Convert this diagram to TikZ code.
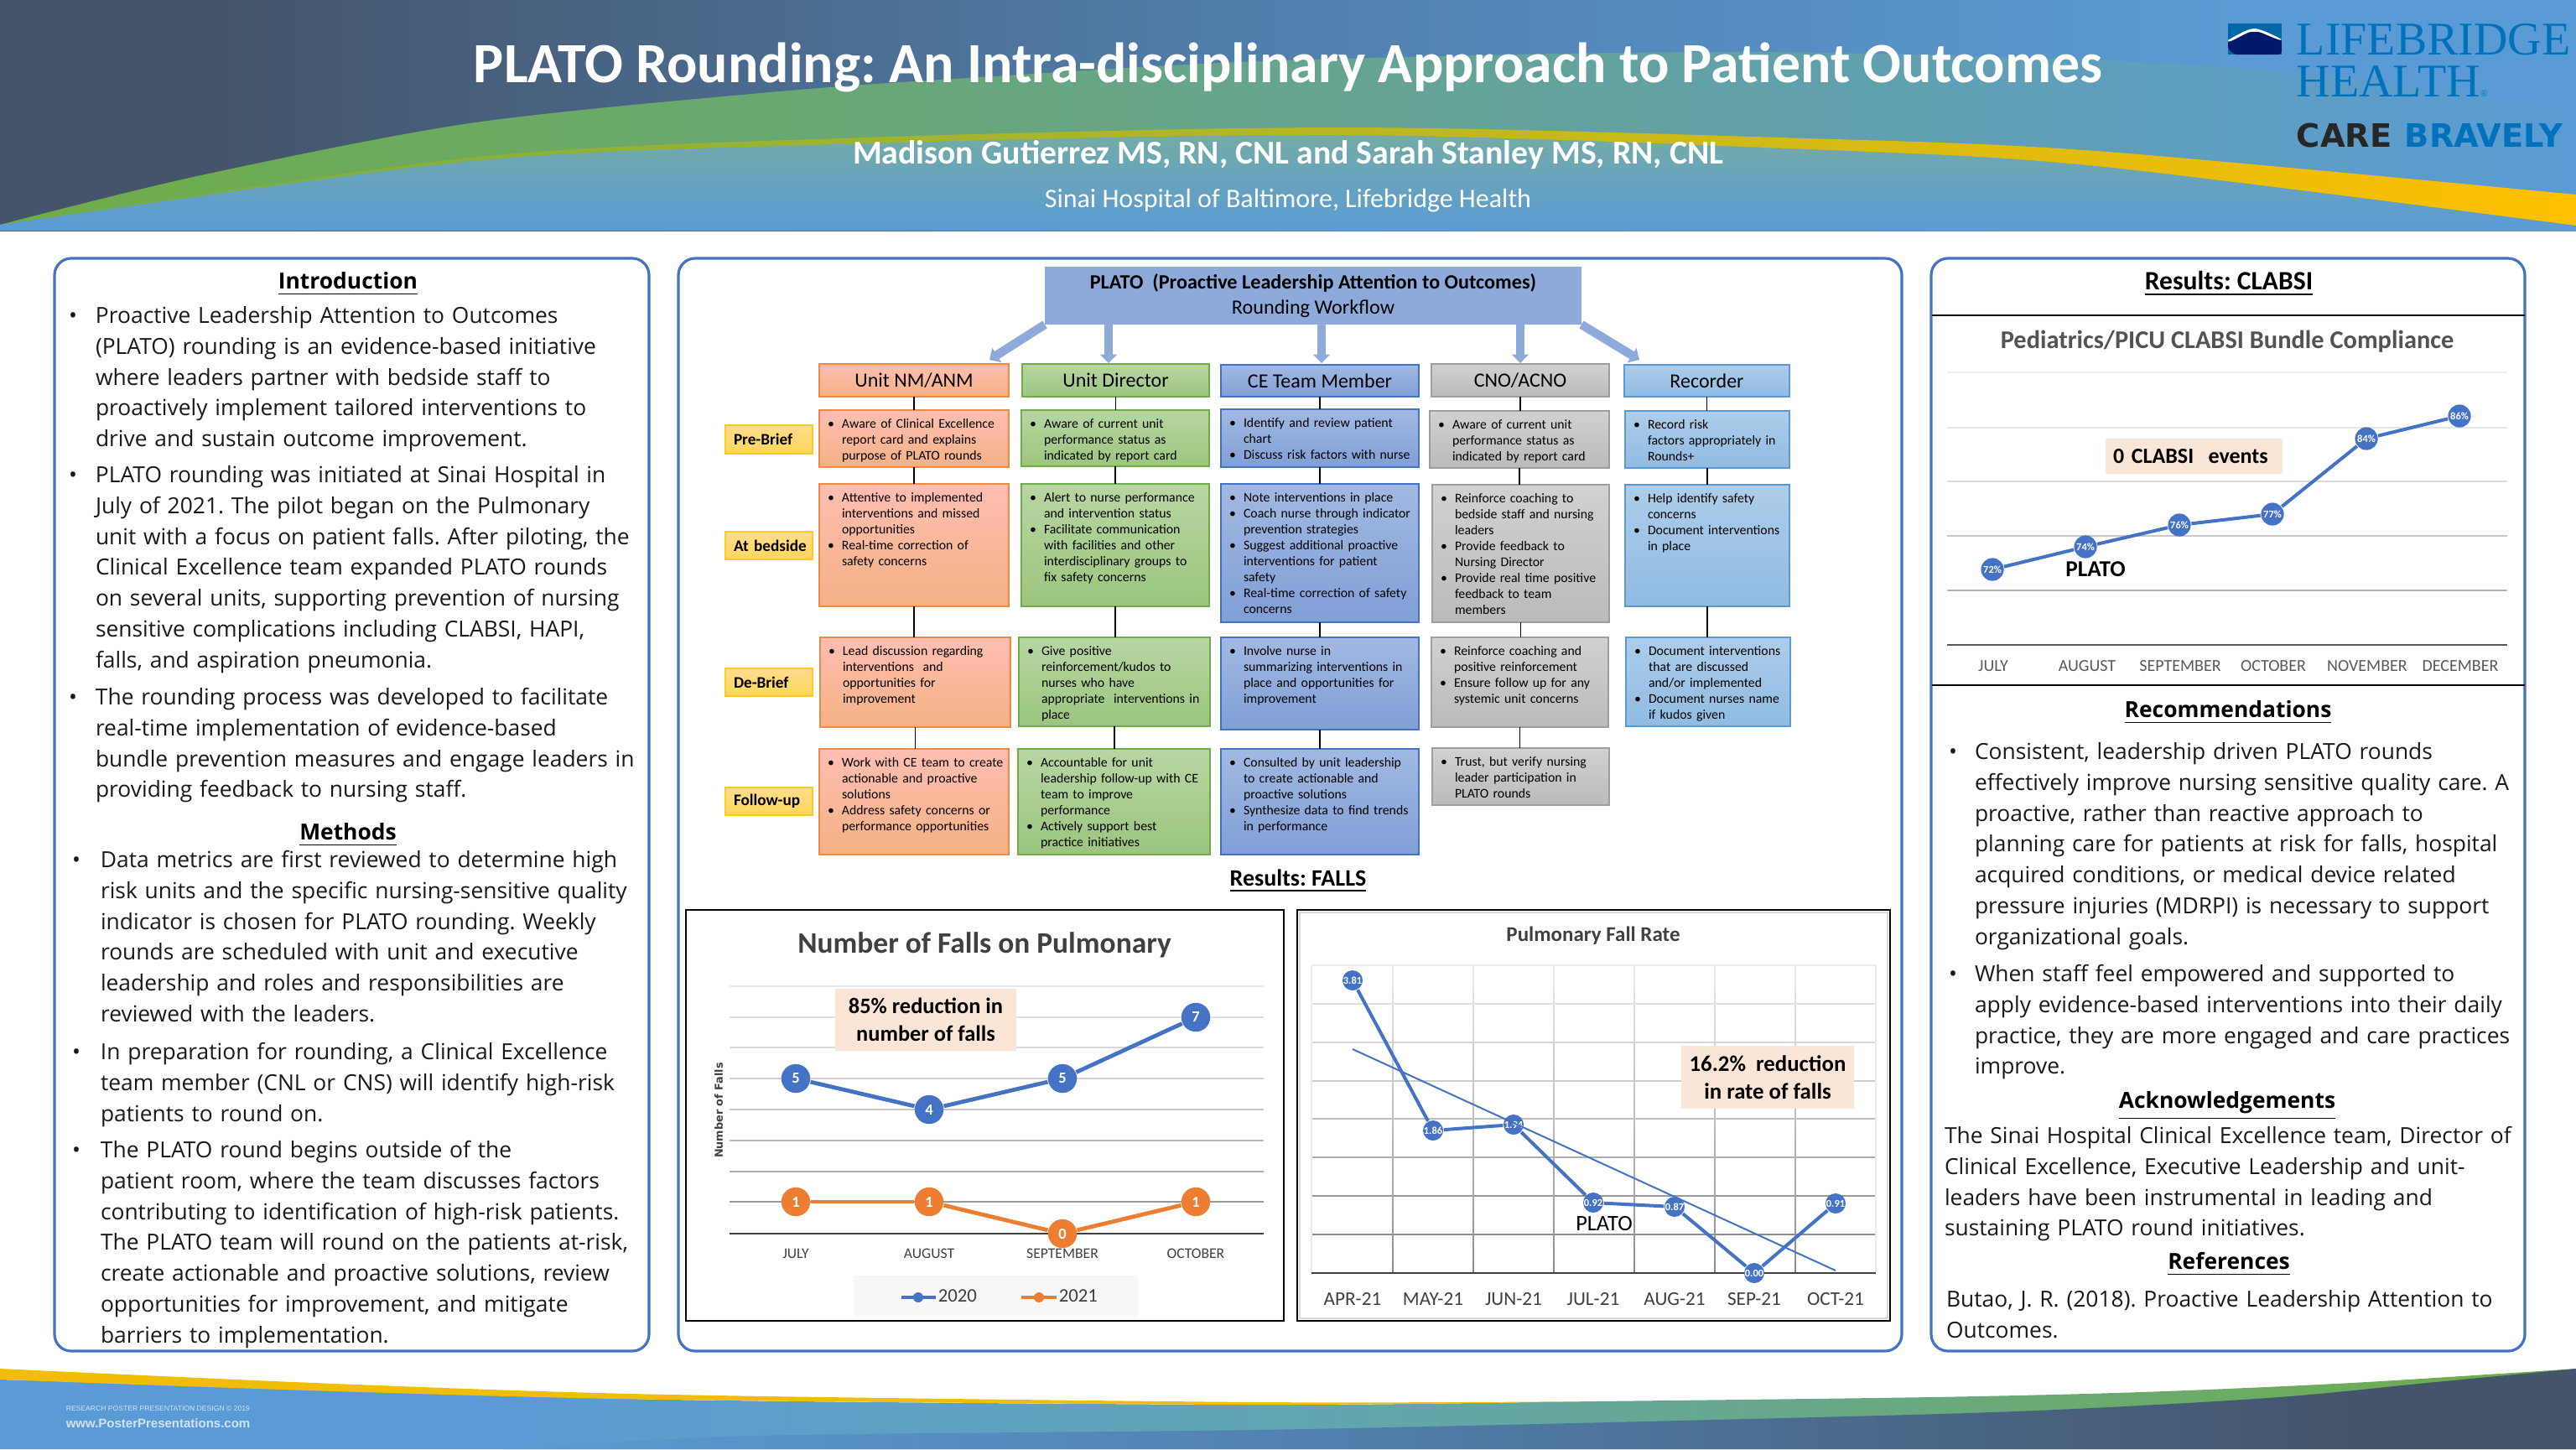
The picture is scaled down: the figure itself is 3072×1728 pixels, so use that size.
\documentclass[tikz,border=0pt]{standalone}
\usepackage{fontspec}
\setmainfont{Carlito}
\newfontfamily\bodyfont{Open Sans}
\newfontfamily\logofont{Liberation Serif}
\newfontfamily\heavyfont{DejaVu Sans}
\newfontfamily\arialfont{Liberation Sans}
\usetikzlibrary{arrows.meta,positioning,calc,shadings}
\frenchspacing

\definecolor{slate}{HTML}{44546A}
\definecolor{skyblue}{HTML}{5B9BD5}
\definecolor{midblue}{HTML}{5180AE}
\definecolor{tealmix}{HTML}{62A5B4}
\definecolor{leaf}{HTML}{70AD47}
\definecolor{gold}{HTML}{FFC000}
\definecolor{rim}{HTML}{4472C4}
\definecolor{platoblue}{HTML}{8EAADB}
\definecolor{serieso}{HTML}{ED7D31}
\definecolor{inkgrey}{HTML}{404040}
\definecolor{peach}{HTML}{FBE5D6}
\definecolor{brand}{HTML}{0072BC}

\pgfdeclarehorizontalshading{headbase}{100bp}{color(0bp)=(slate); color(29bp)=(slate); color(50bp)=(midblue); color(69bp)=(skyblue); color(100bp)=(skyblue)}
\pgfdeclarehorizontalshading{footbase}{100bp}{color(0bp)=(skyblue); color(35bp)=(skyblue); color(50bp)=(tealmix); color(75bp)=(leaf); color(100bp)=(leaf)}
\pgfdeclarehorizontalshading{footdark}{100bp}{color(0bp)=(skyblue); color(25bp)=(skyblue); color(45bp)=(midblue); color(70bp)=(slate); color(100bp)=(slate)}

\newcommand{\fs}[2]{\fontsize{#1}{#2}\selectfont}
\newcommand{\nb}[1]{\makebox[0pt]{#1}}
\newcommand{\bl}[2][4.25pt]{{\leftskip=#1\relax\rightskip=-30pt plus 1fil\relax\noindent\llap{\makebox[#1][l]{\textbullet}}#2\par}}

\tikzset{
  panel/.style={draw=rim,line width=0.8pt,rounded corners=5pt,fill=white},
  chartframe/.style={draw=black,line width=0.35pt,fill=white},
  cardsize/.style 2 args={anchor=north west,inner xsep=2.5pt,inner ysep=0pt,outer sep=0pt,
    align=left,font=\fs{3.95}{4.75},line width=0.3pt,
    minimum width=#1*0.25pt,text width=(#1-20)*0.25pt,
    text height=5.25pt,text depth=(#2-21)*0.25pt},
  headsize/.style 2 args={anchor=north west,inner sep=0pt,outer sep=0pt,font=\fs{6}{7},line width=0.3pt,
    minimum width=#1*0.25pt,minimum height=#2*0.25pt},
  rowsize/.style 2 args={anchor=north west,inner xsep=2.5pt,inner ysep=0pt,outer sep=0pt,align=left,
    font=\bfseries\fs{4.8}{5.5},line width=0.3pt,
    top color=yellow!40!orange!45!white,bottom color=gold!65!white,draw=gold!85!white,
    minimum height=#2*0.25pt,text width=(#1-20)*0.25pt},
  orangecard/.style={top color=orange!30!red!30!white,bottom color=serieso!60!white,draw=serieso!90!white},
  greencard/.style={top color=leaf!50!white,bottom color=leaf!70!white,draw=leaf},
  bluecard/.style={top color=rim!50!white,bottom color=rim!68!white,draw=rim},
  greycard/.style={top color=black!18,bottom color=black!27,draw=black!38},
  skycard/.style={top color=skyblue!50!white,bottom color=skyblue!68!white,draw=skyblue},
  stemline/.style={draw=black,line width=0.45pt},
  flowarrow/.style={-{Triangle[length=2.6pt,width=5pt]},line width=2.6pt,draw=platoblue},
  bodytext/.style={anchor=base west,inner sep=0pt,outer sep=0pt,align=left,text width=175pt,yshift=-0.6pt,
    font=\bodyfont\fs{6.6}{9.2},text=black!90},
  headtext/.style={anchor=base,inner sep=0pt,outer sep=0pt,yshift=-0.4pt,font=\bodyfont\bfseries\fs{6.6}{7}},
  dotblue/.style={circle,fill=rim,draw=none,inner sep=0pt,text=white,font=\bfseries\fs{4.6}{5}},
  dotorange/.style={circle,fill=serieso,draw=none,inner sep=0pt,text=white,font=\bfseries\fs{4.6}{5}},
  dotsmall/.style={dotblue,font=\bfseries\fs{3.1}{4}},
  seriesb/.style={draw=rim,line width=1.2pt},
  serieso/.style={draw=serieso,line width=1.2pt},
  seriesthin/.style={draw=rim,line width=1pt},
  callout/.style={fill=peach,inner sep=0pt,outer sep=0pt,align=center,font=\bfseries\fs{6.6}{8.2}},
  catlabel/.style={inner sep=0pt,outer sep=0pt,text=inkgrey,font=\fs{4.4}{5}},
  catwide/.style={catlabel,font=\fs{5.8}{6}},
  catplain/.style={catlabel,text=black!65,font=\fs{5}{5.5}},
  gridline/.style={line width=0.4pt}
}

\begin{document}
\begin{tikzpicture}[x=0.25pt,y=-0.25pt]
\useasboundingbox (0,0) rectangle (3072,1728);
% header
\shade[shading=headbase] (0,0) rectangle (3072,275);
\shade[left color=leaf,right color=skyblue] plot[smooth] coordinates {(0,268) (235,210) (560,147) (918,110) (1153,93) (1530,72) (2100,62) (2664,80) (3072,130)} -- (3072,275) -- (0,275) -- cycle;
\shade[top color=skyblue!60!leaf!90!white,bottom color=skyblue] plot[smooth] coordinates {(0,268) (561,192) (1000,172) (1600,161) (2155,178) (2500,198) (3072,269)} -- (3072,275) -- (0,275) -- cycle;
\shade[left color=leaf,middle color=gold!55!skyblue!80!leaf,right color=gold] plot[smooth] coordinates {(0,268) (561,188) (1000,165) (1600,152) (2155,165) (2500,180) (3072,232)} -- plot[smooth] coordinates {(3072,269) (2500,198) (2155,178) (1600,161) (1000,172) (561,192) (0,268)} -- cycle;
\node[white,inner sep=0pt,font=\bfseries\fs{16.95}{18}] (title) at (1536,80) {PLATO Rounding: An Intra-disciplinary Approach to Patient Outcomes};
\node[white,inner sep=0pt,font=\bfseries\fs{9.95}{11}] (authors) at (1536,185) {Madison Gutierrez MS, RN, CNL and Sarah Stanley MS, RN, CNL};
\node[white,inner sep=0pt,font=\fs{8}{9}] (affil) at (1536,239) {Sinai Hospital of Baltimore, Lifebridge Health};
% logo
\fill[brand!90!black] (2657,28) rectangle (2721,65);
\fill[white] plot[smooth] coordinates {(2657,48) (2688,34) (2721,47)} -- (2721,52) -- plot[smooth] coordinates {(2721,52) (2688,39) (2657,55)} -- cycle;
\fill[blue!35!black!90!cyan,rounded corners=1pt] plot[smooth] coordinates {(2657,53) (2688,38) (2721,51)} -- (2721,65) -- (2664,65) -- (2657,58) -- cycle;
\node[anchor=base west,inner sep=0pt,text=brand,font=\logofont\fs{14}{14}] (lifebridge) at (2738,65) {LIFEBRIDGE};
\node[anchor=base west,inner sep=0pt,text=brand,font=\logofont\fs{14}{14}] (health) at (2738,115) {HEALTH{\fs{3}{3}®}};
\node[anchor=base west,inner sep=0pt,text=black!85,font=\heavyfont\bfseries\fs{9.6}{10}] (care) at (2738,175) {CARE};
\node[anchor=base west,inner sep=0pt,text=brand,font=\heavyfont\bfseries\fs{9.6}{10}] (bravely) at (2867,175) {BRAVELY};
% footer
\shade[shading=footbase] plot[smooth] coordinates {(0,1645) (400,1656) (800,1669) (1500,1675) (1901,1671) (2302,1666) (2553,1660) (2804,1649) (3072,1632)} -- (3072,1728) -- (0,1728) -- cycle;
\shade[shading=footdark] plot[smooth] coordinates {(600,1728) (900,1712) (1500,1705) (2001,1694) (2403,1683) (2704,1667) (2904,1648) (3072,1632)} -- (3072,1728) -- cycle;
\fill[gold!90!leaf] plot[smooth] coordinates {(0,1632) (400,1650) (800,1663) (1500,1672) (1901,1671)} -- plot[smooth] coordinates {(1901,1671) (1500,1675) (800,1669) (400,1659) (0,1645)} -- cycle;
\node[anchor=west,inner sep=0pt,text=white!72!skyblue,font=\arialfont\fs{2.15}{3}] (design) at (78,1679) {RESEARCH POSTER PRESENTATION DESIGN © 2019};
\node[anchor=west,inner sep=0pt,text=white!72!skyblue,font=\arialfont\bfseries\fs{3.75}{4}] (website) at (78,1697) {www.PosterPresentations.com};
% panels
\draw[panel] (65,308) rectangle (774,1611);
\draw[panel] (809,308) rectangle (2268,1611);
\draw[panel] (2303,308) rectangle (3011,1611);
% left column
\begin{scope}[every node/.append style={text=black}]
\node[headtext] (intro_h) at (415,343) {\underline{Introduction}};
\node[bodytext] (intro_a) at (82,383) {\bl[8pt]{Proactive Leadership Attention to Outcomes\\(PLATO) rounding is an evidence-based initiative\\where leaders partner with bedside staff to\\proactively implement tailored interventions to\\drive and sustain outcome improvement.}};
\node[bodytext] (intro_b) at (82,573) {\bl[8pt]{PLATO rounding was initiated at Sinai Hospital in\\July of 2021. The pilot began on the Pulmonary\\unit with a focus on patient falls. After piloting, the\\Clinical Excellence team expanded PLATO rounds\\on several units, supporting prevention of nursing\\sensitive complications including CLABSI, HAPI,\\falls, and aspiration pneumonia.}};
\node[bodytext] (intro_c) at (82,838) {\bl[8pt]{The rounding process was developed to facilitate\\real-time implementation of evidence-based\\bundle prevention measures and engage leaders in\\providing feedback to nursing staff.}};
\node[headtext] (meth_h) at (415,1000) {\underline{Methods}};
\node[bodytext] (meth_a) at (86,1032) {\bl[8.5pt]{Data metrics are first reviewed to determine high\\risk units and the specific nursing-sensitive quality\\indicator is chosen for PLATO rounding. Weekly\\rounds are scheduled with unit and executive\\leadership and roles and responsibilities are\\reviewed with the leaders.}};
\node[bodytext] (meth_b) at (86,1261) {\bl[8.5pt]{In preparation for rounding, a Clinical Excellence\\team member (CNL or CNS) will identify high-risk\\patients to round on.}};
\node[bodytext] (meth_c) at (86,1378) {\bl[8.5pt]{The PLATO round begins outside of the\\patient room, where the team discusses factors\\contributing to identification of high-risk patients.\\The PLATO team will round on the patients at-risk,\\create actionable and proactive solutions, review\\opportunities for improvement, and mitigate\\barriers to implementation.}};
\end{scope}
% workflow
\node[anchor=north west,fill=platoblue,inner sep=0pt,outer sep=0pt,minimum width=160pt,minimum height=17.25pt,align=center,font=\fs{6.05}{7.5}] (plato) at (1246,318) {\textbf{PLATO\ \ (Proactive Leadership Attention to Outcomes)}\\Rounding Workflow};
\coordinate (tip_nm) at (1180,429);
\coordinate (tip_dir) at (1322,433);
\coordinate (tip_ce) at (1576,433);
\coordinate (tip_cno) at (1813,433);
\coordinate (tip_rec) at (1955,429);
\draw[flowarrow] (plato.south west) -- (tip_nm);
\draw[flowarrow] (plato.south -| tip_dir) -- (tip_dir);
\draw[flowarrow] (plato.south -| tip_ce) -- (tip_ce);
\draw[flowarrow] (plato.south -| tip_cno) -- (tip_cno);
\draw[flowarrow] (plato.south east) -- (tip_rec);
\node[rowsize={104}{34}] (row_pre) at (865,507) {Pre-Brief};
\node[rowsize={104}{33}] (row_bed) at (865,634) {\mbox{At bedside}};
\node[rowsize={104}{33}] (row_deb) at (865,797) {De-Brief};
\node[rowsize={104}{33}] (row_fol) at (865,939) {Follow-up};
\begin{scope}[every node/.append style={orangecard}]
\node[headsize={226}{39}] (nm_head) at (977,434) {Unit NM/ANM};
\node[cardsize={226}{68}] (nm_pre) at (977,489) {\bl{Aware of Clinical Excellence\\report card and explains\\purpose of PLATO rounds}};
\node[cardsize={226}{146}] (nm_bed) at (977,577) {\bl{Attentive to implemented\\interventions and missed\\opportunities}\bl{Real-time correction of\\safety concerns}};
\node[cardsize={227}{107}] (nm_deb) at (978,760) {\bl{Lead discussion regarding\\interventions\ \ and\\opportunities for\\improvement}};
\node[cardsize={226}{126}] (nm_fol) at (977,893) {\bl{Work with CE team to create\\actionable and proactive\\solutions}\bl{Address safety concerns or\\performance opportunities}};
\end{scope}
\begin{scope}[every node/.append style={greencard}]
\node[headsize={223}{39}] (dir_head) at (1219,434) {Unit Director};
\node[cardsize={224}{67}] (dir_pre) at (1218,489) {\bl{Aware of current unit\\performance status as\\indicated by report card}};
\node[cardsize={224}{146}] (dir_bed) at (1218,577) {\bl{Alert to nurse performance\\and intervention status}\bl{Facilitate communication\\with facilities and other\\interdisciplinary groups to\\fix safety concerns}};
\node[cardsize={228}{106}] (dir_deb) at (1215,760) {\bl{Give positive\\reinforcement/kudos to\\nurses who have\\appropriate\ \ interventions in\\place}};
\node[cardsize={229}{126}] (dir_fol) at (1214,893) {\bl{Accountable for unit\\leadership follow-up with CE\\team to improve\\performance}\bl{Actively support best\\practice initiatives}};
\end{scope}
\begin{scope}[every node/.append style={bluecard}]
\node[headsize={236}{38}] (ce_head) at (1456,435) {CE Team Member};
\node[cardsize={236}{69}] (ce_pre) at (1456,488) {\bl{Identify and review patient\\chart}\bl{Discuss risk factors with nurse}};
\node[cardsize={236}{165}] (ce_bed) at (1456,577) {\bl{Note interventions in place}\bl{Coach nurse through indicator\\prevention strategies}\bl{Suggest additional proactive\\interventions for patient\\safety}\bl{Real-time correction of safety\\concerns}};
\node[cardsize={236}{110}] (ce_deb) at (1456,760) {\bl{Involve nurse in\\summarizing interventions in\\place and opportunities for\\improvement}};
\node[cardsize={236}{126}] (ce_fol) at (1456,893) {\bl{Consulted by unit leadership\\to create actionable and\\proactive solutions}\bl{Synthesize data to find trends\\in performance}};
\end{scope}
\begin{scope}[every node/.append style={greycard}]
\node[headsize={212}{39}] (cno_head) at (1707,434) {CNO/ACNO};
\node[cardsize={214}{68}] (cno_pre) at (1705,490) {\bl{Aware of current unit\\performance status as\\indicated by report card}};
\node[cardsize={211}{164}] (cno_bed) at (1708,578) {\bl{Reinforce coaching to\\bedside staff and nursing\\leaders}\bl{Provide feedback to\\Nursing Director}\bl{Provide real time positive\\feedback to team\\members}};
\node[cardsize={211}{107}] (cno_deb) at (1707,760) {\bl{Reinforce coaching and\\positive reinforcement}\bl{Ensure follow up for any\\systemic unit concerns}};
\node[cardsize={211}{68}] (cno_fol) at (1708,892) {\bl{Trust, but verify nursing\\leader participation in\\PLATO rounds}};
\end{scope}
\begin{scope}[every node/.append style={skycard}]
\node[headsize={197}{38}] (rec_head) at (1937,435) {Recorder};
\node[cardsize={196}{68}] (rec_pre) at (1938,490) {\bl{Record risk\\factors appropriately in\\Rounds+}};
\node[cardsize={196}{145}] (rec_bed) at (1938,578) {\bl{Help identify safety\\concerns}\bl{Document interventions\\in place}};
\node[cardsize={196}{106}] (rec_deb) at (1939,760) {\bl{Document interventions\\that are discussed\\and/or implemented}\bl{Document nurses name\\if kudos given}};
\end{scope}
\draw[stemline] (nm_head.south) -- (nm_head.south |- nm_pre.north);
\draw[stemline] (nm_pre.south) -- (nm_pre.south |- nm_bed.north);
\draw[stemline] (nm_bed.south) -- (nm_bed.south |- nm_deb.north);
\draw[stemline] (nm_deb.south) -- (nm_deb.south |- nm_fol.north);
\draw[stemline] (dir_head.south) -- (dir_head.south |- dir_pre.north);
\draw[stemline] (dir_pre.south) -- (dir_pre.south |- dir_bed.north);
\draw[stemline] (dir_bed.south) -- (dir_bed.south |- dir_deb.north);
\draw[stemline] (dir_deb.south) -- (dir_deb.south |- dir_fol.north);
\draw[stemline] (ce_head.south) -- (ce_head.south |- ce_pre.north);
\draw[stemline] (ce_pre.south) -- (ce_pre.south |- ce_bed.north);
\draw[stemline] (ce_bed.south) -- (ce_bed.south |- ce_deb.north);
\draw[stemline] (ce_deb.south) -- (ce_deb.south |- ce_fol.north);
\draw[stemline] (cno_head.south) -- (cno_head.south |- cno_pre.north);
\draw[stemline] (cno_pre.south) -- (cno_pre.south |- cno_bed.north);
\draw[stemline] (cno_bed.south) -- (cno_bed.south |- cno_deb.north);
\draw[stemline] (cno_deb.south) -- (cno_deb.south |- cno_fol.north);
\draw[stemline] (rec_head.south) -- (rec_head.south |- rec_pre.north);
\draw[stemline] (rec_pre.south) -- (rec_pre.south |- rec_bed.north);
\draw[stemline] (rec_bed.south) -- (rec_bed.south |- rec_deb.north);
\node[anchor=base,inner sep=0pt,font=\bfseries\fs{7}{8}] (falls_h) at (1548,1056) {\underline{Results: FALLS}};
% falls count chart
\draw[chartframe] (818,1085) rectangle (1531,1575);
\node[inner sep=0pt,text=inkgrey,font=\bfseries\fs{8.85}{10}] (count_t) at (1174,1127) {Number of Falls on Pulmonary};
\draw[gridline,black!9] (870,1176) -- (1507,1176);
\draw[gridline,black!12] (870,1213) -- (1507,1213);
\draw[gridline,black!15] (870,1249) -- (1507,1249);
\draw[gridline,black!18] (870,1286) -- (1507,1286);
\draw[gridline,black!22] (870,1323) -- (1507,1323);
\draw[gridline,black!28] (870,1360) -- (1507,1360);
\draw[gridline,black!33] (870,1397) -- (1507,1397);
\draw[gridline,black!40] (870,1433) -- (1507,1433);
\draw[inkgrey,line width=0.65pt] (870,1471) -- (1507,1471);
\node[inner sep=0pt,rotate=90,text=inkgrey,font=\heavyfont\bfseries\fs{3.2}{4}] (count_y) at (857,1324) {Number of Falls};
\node[callout,minimum width=54pt,minimum height=18.5pt] (count_note) at (1104,1216) {85\% reduction in\\number of falls};
\begin{scope}[every node/.append style={minimum size=8.6pt}]
\node[dotblue] (ya1) at (949,1286) {5};
\node[dotblue] (ya2) at (1108,1323) {4};
\node[dotblue] (ya3) at (1267,1286) {5};
\node[dotblue] (ya4) at (1426,1213) {7};
\node[dotorange] (yb1) at (949,1433) {1};
\node[dotorange] (yb2) at (1108,1433) {1};
\node[dotorange] (yb3) at (1267,1471) {0};
\node[dotorange] (yb4) at (1426,1433) {1};
\end{scope}
\draw[seriesb] (ya1) -- (ya2);
\draw[seriesb] (ya2) -- (ya3);
\draw[seriesb] (ya3) -- (ya4);
\draw[serieso] (yb1) -- (yb2);
\draw[serieso] (yb2) -- (yb3);
\draw[serieso] (yb3) -- (yb4);
\node[catlabel] (cm1) at (949,1495) {JULY};
\node[catlabel] (cm2) at (1108,1495) {AUGUST};
\node[catlabel] (cm3) at (1267,1495) {SEPTEMBER};
\node[catlabel] (cm4) at (1426,1495) {OCTOBER};
\fill[black!3] (1018,1521) rectangle (1357,1570);
\node[dotblue,minimum size=3pt] (key_a) at (1095,1547) {};
\node[dotorange,minimum size=3pt] (key_b) at (1239,1547) {};
\draw[seriesb,line width=0.9pt] (1075,1547) -- (1116,1547);
\draw[serieso,line width=0.9pt] (1218,1547) -- (1260,1547);
\node[anchor=west,inner sep=0pt,text=inkgrey,font=\fs{5.7}{6}] (key_at) at (1118,1545) {2020};
\node[anchor=west,inner sep=0pt,text=inkgrey,font=\fs{5.7}{6}] (key_bt) at (1262,1545) {2021};
% fall rate chart
\draw[chartframe] (1547,1085) rectangle (2254,1575);
\draw[black!15,line width=0.4pt] (1550,1088) rectangle (2251,1572);
\node[inner sep=0pt,text=inkgrey,font=\bfseries\fs{6.25}{7}] (rate_t) at (1900,1116) {Pulmonary Fall Rate};
\draw[gridline,black!8] (1564,1151) -- (2237,1151);
\draw[gridline,black!12] (1564,1197) -- (2237,1197);
\draw[gridline,black!16] (1564,1243) -- (2237,1243);
\draw[gridline,black!20] (1564,1289) -- (2237,1289);
\draw[gridline,black!26] (1564,1334) -- (2237,1334);
\draw[gridline,black!32] (1564,1380) -- (2237,1380);
\draw[gridline,black!40] (1564,1426) -- (2237,1426);
\draw[gridline,black!45] (1564,1472) -- (2237,1472);
\draw[gridline,black!8] (1564,1151) -- (1564,1518);
\shade[top color=black!8,bottom color=black!45] (1660.5,1151) rectangle (1661.5,1518);
\shade[top color=black!8,bottom color=black!45] (1756.5,1151) rectangle (1757.5,1518);
\shade[top color=black!8,bottom color=black!45] (1852.5,1151) rectangle (1853.5,1518);
\shade[top color=black!8,bottom color=black!45] (1948.5,1151) rectangle (1949.5,1518);
\shade[top color=black!8,bottom color=black!45] (2044.5,1151) rectangle (2045.5,1518);
\shade[top color=black!8,bottom color=black!45] (2140.5,1151) rectangle (2141.5,1518);
\draw[gridline,black!8] (2237,1151) -- (2237,1518);
\draw[inkgrey,line width=0.5pt] (1564,1518) -- (2237,1518);
\node[callout,minimum width=51.5pt,minimum height=18.75pt,font=\bfseries\fs{6.7}{8.2}] (rate_note) at (2108,1284.5) {16.2\%\ \ reduction\\in rate of falls};
\node[inner sep=0pt,font=\fs{6.6}{7}] (rate_plato) at (1913,1459) {PLATO};
\begin{scope}[every node/.append style={minimum size=6pt}]
\node[dotsmall] (ra1) at (1613,1169) {\nb{3.81}};
\node[dotsmall] (ra2) at (1709,1348) {\nb{1.86}};
\node[dotsmall] (ra3) at (1805,1341) {\nb{1.94}};
\node[dotsmall] (ra4) at (1900,1434) {\nb{0.92}};
\node[dotsmall] (ra5) at (1997,1439) {\nb{0.87}};
\node[dotsmall] (ra6) at (2092,1518) {\nb{0.00}};
\node[dotsmall] (ra7) at (2189,1435) {\nb{0.91}};
\end{scope}
\draw[seriesthin] (ra1) -- (ra2);
\draw[seriesthin] (ra2) -- (ra3);
\draw[seriesthin] (ra3) -- (ra4);
\draw[seriesthin] (ra4) -- (ra5);
\draw[seriesthin] (ra5) -- (ra6);
\draw[seriesthin] (ra6) -- (ra7);
\coordinate (trend_a) at (1613,1251);
\coordinate (trend_b) at (2189,1515);
\draw[rim,line width=0.5pt] (trend_a) -- (trend_b);
\node[catwide] (rm1) at (1613,1549) {APR-21};
\node[catwide] (rm2) at (1709,1549) {MAY-21};
\node[catwide] (rm3) at (1805,1549) {JUN-21};
\node[catwide] (rm4) at (1900,1549) {JUL-21};
\node[catwide] (rm5) at (1997,1549) {AUG-21};
\node[catwide] (rm6) at (2092,1549) {SEP-21};
\node[catwide] (rm7) at (2189,1549) {OCT-21};
% clabsi chart
\node[anchor=base,inner sep=0pt,font=\bfseries\fs{7.9}{8.5}] (clabsi_h) at (2658,345) {\underline{Results: CLABSI}};
\draw[chartframe] (2304,376) -- (3011,376);
\draw[chartframe] (2304,817) -- (3011,817);
\node[inner sep=0pt,text=inkgrey!90!white,font=\bfseries\fs{7.6}{8}] (clabsi_t) at (2656,407) {Pediatrics/PICU CLABSI Bundle Compliance};
\draw[gridline,black!7] (2322,444) -- (2990,444);
\draw[gridline,black!10] (2322,510) -- (2990,510);
\draw[gridline,black!15] (2322,574) -- (2990,574);
\draw[gridline,black!22] (2322,639) -- (2990,639);
\draw[gridline,black!30] (2322,704) -- (2990,704);
\draw[black!65,line width=0.65pt] (2322,769) -- (2990,769);
\node[fill=peach,anchor=west,inner xsep=2.25pt,inner ysep=0pt,outer sep=0pt,minimum height=10.5pt,text width=48.25pt,align=left,font=\bfseries\fs{6.5}{7}] (clabsi_note) at (2511,544) {0 CLABSI\ \ events};
\node[inner sep=0pt,font=\bfseries\fs{6.8}{8}] (clabsi_plato) at (2499,679) {PLATO};
\begin{scope}[every node/.append style={minimum size=6.8pt}]
\node[dotsmall] (ca1) at (2376,679) {\nb{72\%}};
\node[dotsmall] (ca2) at (2487,652) {\nb{74\%}};
\node[dotsmall] (ca3) at (2599,626) {\nb{76\%}};
\node[dotsmall] (ca4) at (2710,613) {\nb{77\%}};
\node[dotsmall] (ca5) at (2822,523) {\nb{84\%}};
\node[dotsmall] (ca6) at (2933,496) {\nb{86\%}};
\end{scope}
\draw[seriesthin] (ca1) -- (ca2);
\draw[seriesthin] (ca2) -- (ca3);
\draw[seriesthin] (ca3) -- (ca4);
\draw[seriesthin] (ca4) -- (ca5);
\draw[seriesthin] (ca5) -- (ca6);
\node[catplain] (lm1) at (2377,794) {JULY};
\node[catplain] (lm2) at (2489,794) {AUGUST};
\node[catplain] (lm3) at (2600,794) {SEPTEMBER};
\node[catplain] (lm4) at (2711,794) {OCTOBER};
\node[catplain] (lm5) at (2823,794) {NOVEMBER};
\node[catplain] (lm6) at (2934,794) {DECEMBER};
% right column
\begin{scope}[every node/.append style={text=black}]
\node[headtext] (rec_h) at (2657,854) {\underline{Recommendations}};
\node[bodytext] (reco_a) at (2324,903) {\bl[7.75pt]{Consistent, leadership driven PLATO rounds\\effectively improve nursing sensitive quality care. A\\proactive, rather than reactive approach to\\planning care for patients at risk for falls, hospital\\acquired conditions, or medical device related\\pressure injuries (MDRPI) is necessary to support\\organizational goals.}};
\node[bodytext] (reco_b) at (2324,1168) {\bl[7.75pt]{When staff feel empowered and supported to\\apply evidence-based interventions into their daily\\practice, they are more engaged and care practices\\improve.}};
\node[headtext] (ack_h) at (2656,1320) {\underline{Acknowledgements}};
\node[bodytext] (ack_a) at (2319,1361) {The Sinai Hospital Clinical Excellence team, Director of\\Clinical Excellence, Executive Leadership and unit-\\leaders have been instrumental in leading and\\sustaining PLATO round initiatives.};
\node[headtext] (ref_h) at (2658,1512) {\underline{References}};
\node[bodytext] (ref_a) at (2321,1556) {Butao, J. R. (2018). Proactive Leadership Attention to\\Outcomes.};
\end{scope}
\end{tikzpicture}
\end{document}
